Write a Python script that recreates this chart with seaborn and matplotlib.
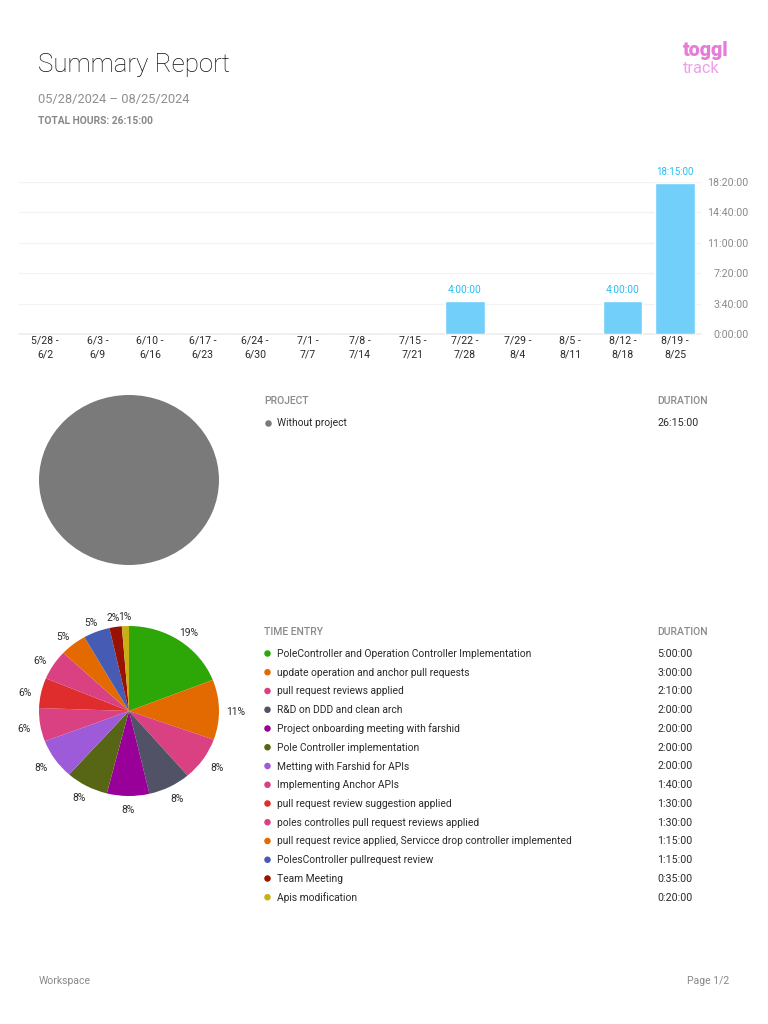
import matplotlib
matplotlib.use("Agg")
import matplotlib.pyplot as plt
import seaborn as sns
import pandas as pd

sns.set_theme(style="white")
plt.rcParams['font.family'] = ['Roboto', 'DejaVu Sans']

# ---- data ----
week_labels = ["5/28 -\n6/2", "6/3 -\n6/9", "6/10 -\n6/16", "6/17 -\n6/23", "6/24 -\n6/30",
               "7/1 -\n7/7", "7/8 -\n7/14", "7/15 -\n7/21", "7/22 -\n7/28", "7/29 -\n8/4",
               "8/5 -\n8/11", "8/12 -\n8/18", "8/19 -\n8/25"]
week_hours = [0, 0, 0, 0, 0, 0, 0, 0, 4.0, 0, 0, 4.0, 18.25]
week_texts = ["", "", "", "", "", "", "", "", "4:00:00", "", "", "4:00:00", "18:15:00"]
ytick_hours = [0, 11/3, 22/3, 11, 44/3, 55/3]
ytick_labels = ["0:00:00", "3:40:00", "7:20:00", "11:00:00", "14:40:00", "18:20:00"]

project_names = ["Without project"]
project_minutes = [1575]
project_durations = ["26:15:00"]
project_colors = ["#7a7a7a"]

entry_names = ["PoleController and Operation Controller Implementation",
               "update operation and anchor pull requests",
               "pull request reviews applied",
               "R&D on DDD and clean arch",
               "Project onboarding meeting with farshid",
               "Pole Controller implementation",
               "Metting with Farshid for APIs",
               "Implementing Anchor APIs",
               "pull request review suggestion applied",
               "poles controlles pull request reviews applied",
               "pull request revice applied, Servicce drop controller implemented",
               "PolesController pullrequest review",
               "Team Meeting",
               "Apis modification"]
entry_minutes = [300, 180, 130, 120, 120, 120, 120, 100, 90, 90, 75, 75, 35, 20]
entry_durations = ["5:00:00", "3:00:00", "2:10:00", "2:00:00", "2:00:00", "2:00:00", "2:00:00",
                   "1:40:00", "1:30:00", "1:30:00", "1:15:00", "1:15:00", "0:35:00", "0:20:00"]
entry_colors = ["#2da608", "#e36a00", "#d94182", "#525266", "#990099", "#566614", "#9e5bd9",
                "#d94182", "#df2c2c", "#d94182", "#e36a00", "#465bb3", "#991102", "#c7af14"]

W, H = 768, 1024
fig = plt.figure(figsize=(W / 100, H / 100), dpi=100, facecolor="white")

def box(x0, y0, x1, y1, **kw):
    return fig.add_axes([x0 / W, 1 - y1 / H, (x1 - x0) / W, (y1 - y0) / H], **kw)

# ---- bar chart ----
ax = box(18.75, 182, 701.25, 334)
df = pd.DataFrame({"week": week_labels, "hours": week_hours})
sns.barplot(data=df, x="week", y="hours", color="#72cffa", saturation=1, width=0.75, ax=ax, zorder=3)
ax.set_xlim(-0.5, 12.5)
ax.set_ylim(0, ytick_hours[-1])
ax.set_xlabel(""); ax.set_ylabel("")
ax.set_yticks(ytick_hours, ytick_labels)
ax.yaxis.tick_right()
ax.grid(axis="y", color="#f2f2f2", lw=0.9, zorder=0)
ax.set_axisbelow(True)
for s in ax.spines.values():
    s.set_visible(False)
ax.spines["bottom"].set_visible(True)
ax.spines["bottom"].set_color("#eeeeee")
ax.tick_params(axis="y", length=0, pad=34, labelsize=7.7, labelcolor="#8a8a8a")
for t in ax.get_yticklabels():
    t.set_ha("right")
ax.tick_params(axis="x", length=0, pad=0.9, labelsize=7.6, labelcolor="#2a2a2a")
for t in ax.get_xticklabels():
    t.set_linespacing(1.5)
for i, txt in enumerate(week_texts):
    if txt:
        ax.annotate(txt, (i, week_hours[i]), xytext=(0, 3.9), textcoords="offset points",
                    ha="center", va="bottom", fontsize=7.3 if len(txt) < 8 else 7.0, color="#27bdf5")

# ---- pies ----
def pie(values, colors, y0, y1, labelled):
    a = box(39, y0, 219, y1)
    kw = dict(autopct="%.0f%%", pctdistance=1.2) if labelled else {}
    res = a.pie(values, colors=colors, startangle=90, counterclock=False, radius=1,
                wedgeprops=dict(lw=0), **kw)
    if labelled:
        for t in res[2]:
            x, y = t.get_position()
            t.set_position((x * 0.985, y * 0.945 - 0.025))
            t.set_fontsize(7.4); t.set_color("#2a2a2a")
    a.set_aspect("auto")
    a.set_xlim(-1, 1); a.set_ylim(-1, 1)
    return a

pie(project_minutes, project_colors, 395, 565, False)
pie(entry_minutes, entry_colors, 626, 796, True)

# ---- overlay: header, tables, footer ----
ov = fig.add_axes([0, 0, 1, 1], zorder=5)
ov.set_xlim(0, W); ov.set_ylim(H, 0); ov.axis("off"); ov.patch.set_alpha(0)

ov.text(38.5, 65, "Summary Report", fontsize=18.6, color="#111111", fontweight="light", va="center")
ov.text(38.5, 99, "05/28/2024 – 08/25/2024", fontsize=9.3, color="#8f8f8f", va="center")
ov.text(38.5, 121, "TOTAL HOURS: 26:15:00", fontsize=7.4, color="#888888", fontweight="bold", va="center")
ov.text(683, 55.5, "toggl", fontsize=14.2, color="#e57cd8", fontweight="black", va="baseline")
ov.text(683, 73, "track", fontsize=11.8, color="#f0a0e8", fontweight="normal", va="baseline")

def table(head, head_y, names, durs, cols, row0, step):
    ov.text(264.5, head_y, head, fontsize=7.5, color="#8a8a8a", fontweight="medium", va="center")
    ov.text(657.5, head_y, "DURATION", fontsize=7.5, color="#8a8a8a", fontweight="medium", va="center")
    rows = pd.DataFrame({"x": [267.5] * len(names),
                         "y": [row0 + i * step for i in range(len(names))],
                         "row": [str(i) for i in range(len(names))]})
    sns.scatterplot(data=rows, x="x", y="y", hue="row", palette=cols, s=22, linewidth=0,
                    legend=False, ax=ov, zorder=6)
    for y, n, d in zip(rows["y"], names, durs):
        ov.text(277, y + 0.4, n, fontsize=7.4, color="#2a2a2a", va="center")
        ov.text(657.5, y + 0.4, d, fontsize=7.7, color="#2a2a2a", va="center")

table("PROJECT", 400.7, project_names, project_durations, project_colors, 422.5, 18.75)
table("TIME ENTRY", 632, entry_names, entry_durations, entry_colors, 653.5, 18.75)
ov.set_xlim(0, W); ov.set_ylim(H, 0); ov.set_xlabel(""); ov.set_ylabel("")

ov.text(38.5, 981.5, "Workspace", fontsize=7.5, color="#888888", va="center")
ov.text(729, 981.5, "Page 1/2", fontsize=7.5, color="#888888", va="center", ha="right")

fig.savefig("out.png", dpi=100, facecolor="white")
